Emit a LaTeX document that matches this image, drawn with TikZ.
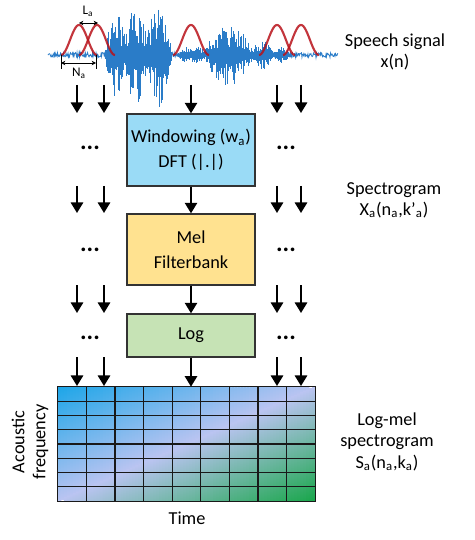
\documentclass[tikz,border=0pt]{standalone}
\usepackage{fontspec}
\setmainfont{Carlito}
\usetikzlibrary{arrows.meta}
\definecolor{wavecol}{HTML}{2A7CC8}
\definecolor{hanncol}{HTML}{B8121A}
\definecolor{wincol}{HTML}{9ADBF6}
\definecolor{melcol}{HTML}{FFE290}
\definecolor{logcol}{HTML}{C6E3B5}
\definecolor{gridtl}{HTML}{1EA6E8}
\definecolor{gridmid}{HTML}{BAC4F1}
\definecolor{gridbr}{HTML}{18A64A}
\tikzset{
  wave/.style={wavecol, line width=0.45pt},
  flow/.style={line width=1.1pt, -{Triangle[length=6pt,width=7pt]}},
  dimline/.style={line width=0.5pt, {Stealth[length=2.5pt,width=2.6pt]}-{Stealth[length=2.5pt,width=2.6pt]}},
  stage/.style={draw=black!80, line width=0.8pt, minimum width=2.56cm, inner sep=0pt, align=center, font=\fontsize{10.4}{14}\selectfont},
  lbl/.style={align=center, inner sep=0pt, font=\fontsize{10.4}{12}\selectfont},
  small/.style={inner sep=0pt, font=\fontsize{7.5}{9}\selectfont},
  dots/.style={inner sep=0pt, font=\bfseries\fontsize{14}{14}\selectfont},
  cell/.style={draw=black!90, line width=0.7pt},
}

\begin{document}
\begin{tikzpicture}[x=0.02cm, y=-0.02cm]
	%%%%% START %%%%%
	\useasboundingbox (0,0) rectangle (474,540);
	\pgfmathsetseed{11}
	
	% speech signal
	\draw[wave] plot[domain=48:338, samples=580] (\x, {55+2.5*rand});
	\foreach \m/\w/\a in {116/12/42,136/14/48,158/14/52,192/16/10,228/26/31,262/12/15,282/10/8}{
		\pgfmathtruncatemacro\nn{2*\w}
		\foreach \k in {0,...,\nn}{
			\pgfmathsetmacro\xx{\m-\w+\k}
			\pgfmathsetmacro\dd{(\k-\w)/\w}
			\pgfmathsetmacro\ee{\a*(1-\dd*\dd)}
			\pgfmathsetmacro\hi{55-\ee*(0.25+0.75*rnd)}
			\pgfmathsetmacro\lo{55+\ee*(0.25+0.75*rnd)}
			\draw[wave] (\xx,\hi) -- (\xx,\lo);
		}
	}
	
	% analysis windows
	\foreach \s in {61,79,173,259,283}
		\draw[hanncol, line width=1.2pt, opacity=0.85] plot[domain=0:36, samples=37] ({\s+\x}, {55-30*sin(5*\x)^2});
	
	\coordinate (la1) at (79,23);
	\coordinate (la2) at (98,23);
	\draw[dimline] (la1) -- (la2);
	\node[small] (latxt) at (88,11) {L\textsubscript{a}};
	
	\coordinate (na1) at (61,63);
	\coordinate (na2) at (96,63);
	\draw[line width=0.5pt] (61,55) -- (61,69);
	\draw[line width=0.5pt] (96,55) -- (96,69);
	\draw[dimline] (na1) -- (na2);
	\node[small] (natxt) at (79,73) {N\textsubscript{a}};
	
	% processing stages
	\node[stage, fill=wincol, minimum height=1.44cm] (win) at (191,150) {Windowing (w\textsubscript{a})\\DFT (|.|)};
	\node[stage, fill=melcol, minimum height=1.42cm] (mel) at (191,249.5) {Mel\\Filterbank};
	\node[stage, fill=logcol, minimum height=0.86cm] (log) at (191,335.5) {Log};
	
	% log-mel spectrogram grid
	\node[minimum width=5.14cm, minimum height=2.28cm, inner sep=0pt] (spec) at (186.5,444) {};
	\foreach \i in {0,...,85}{
		\pgfmathsetmacro\uu{(\i+0.5)/86}
		\pgfmathsetmacro\xl{58+\i*(257/86)}
		\pgfmathsetmacro\xr{\xl+(257/86)+0.4}
		\pgfmathsetmacro\ym{387+114*(1-\uu)}
		\pgfmathsetmacro\yu{\ym+0.3}
		\pgfmathtruncatemacro\pc{100*\uu}
		\pgfmathtruncatemacro\hasup{\ym>389 ? 1 : 0}
		\pgfmathtruncatemacro\hasdn{\ym<499 ? 1 : 0}
		\ifnum\hasup=1
			\shade[top color=gridmid!\pc!gridtl, bottom color=gridmid] (\xl,387) rectangle (\xr,\yu);
		\fi
		\ifnum\hasdn=1
			\shade[top color=gridmid, bottom color=gridbr!\pc!gridmid] (\xl,\ym) rectangle (\xr,501);
		\fi
	}
	\foreach \i in {1,...,8}
		\draw[cell] ({58+\i*257/9},387) -- ({58+\i*257/9},501);
	\foreach \j in {1,...,7}
		\draw[cell] (58,{387+\j*114/8}) -- (315,{387+\j*114/8});
	\draw[cell] (spec.north west) rectangle (spec.south east);
	
	% arrows
	\coordinate (sigout) at (191,85);
	\coordinate (gridin) at (spec.north -| log.south);
	\draw[flow] (sigout) -- (win);
	\draw[flow] (win) -- (mel);
	\draw[flow] (mel) -- (log);
	\draw[flow] (log) -- (gridin);
	
	\foreach \ya/\yb [count=\r] in {85/113,186/213,285/313,357/386}{
		\foreach \xa [count=\k] in {77,104,277,301}{
			\coordinate (t\r\k) at (\xa,\ya);
			\coordinate (h\r\k) at (\xa,\yb);
			\draw[flow] (t\r\k) -- (h\r\k);
		}
	}
	
	\node[dots] (dotl1) at (90,148) {...};
	\node[dots] (dotr1) at (286,148) {...};
	\node[dots] (dotl2) at (90,250) {...};
	\node[dots] (dotr2) at (286,250) {...};
	\node[dots] (dotl3) at (90,338) {...};
	\node[dots] (dotr3) at (286,338) {...};
	
	% labels
	\node[lbl] (speechlbl) at (395,52) {Speech signal\\x(n)};
	\node[lbl] (speclbl) at (394,200) {Spectrogram\\X\textsubscript{a}(n\textsubscript{a},k'\textsubscript{a})};
	\node[lbl] (logmellbl) at (387,442) {Log-mel\\spectrogram\\S\textsubscript{a}(n\textsubscript{a},k\textsubscript{a})};
	\node[lbl, rotate=90] (freqlbl) at (30,442) {Acoustic\\frequency};
	\node[lbl] (timelbl) at (187,518) {Time};
	
	%%%%% END %%%%%
\end{tikzpicture}
\end{document}
